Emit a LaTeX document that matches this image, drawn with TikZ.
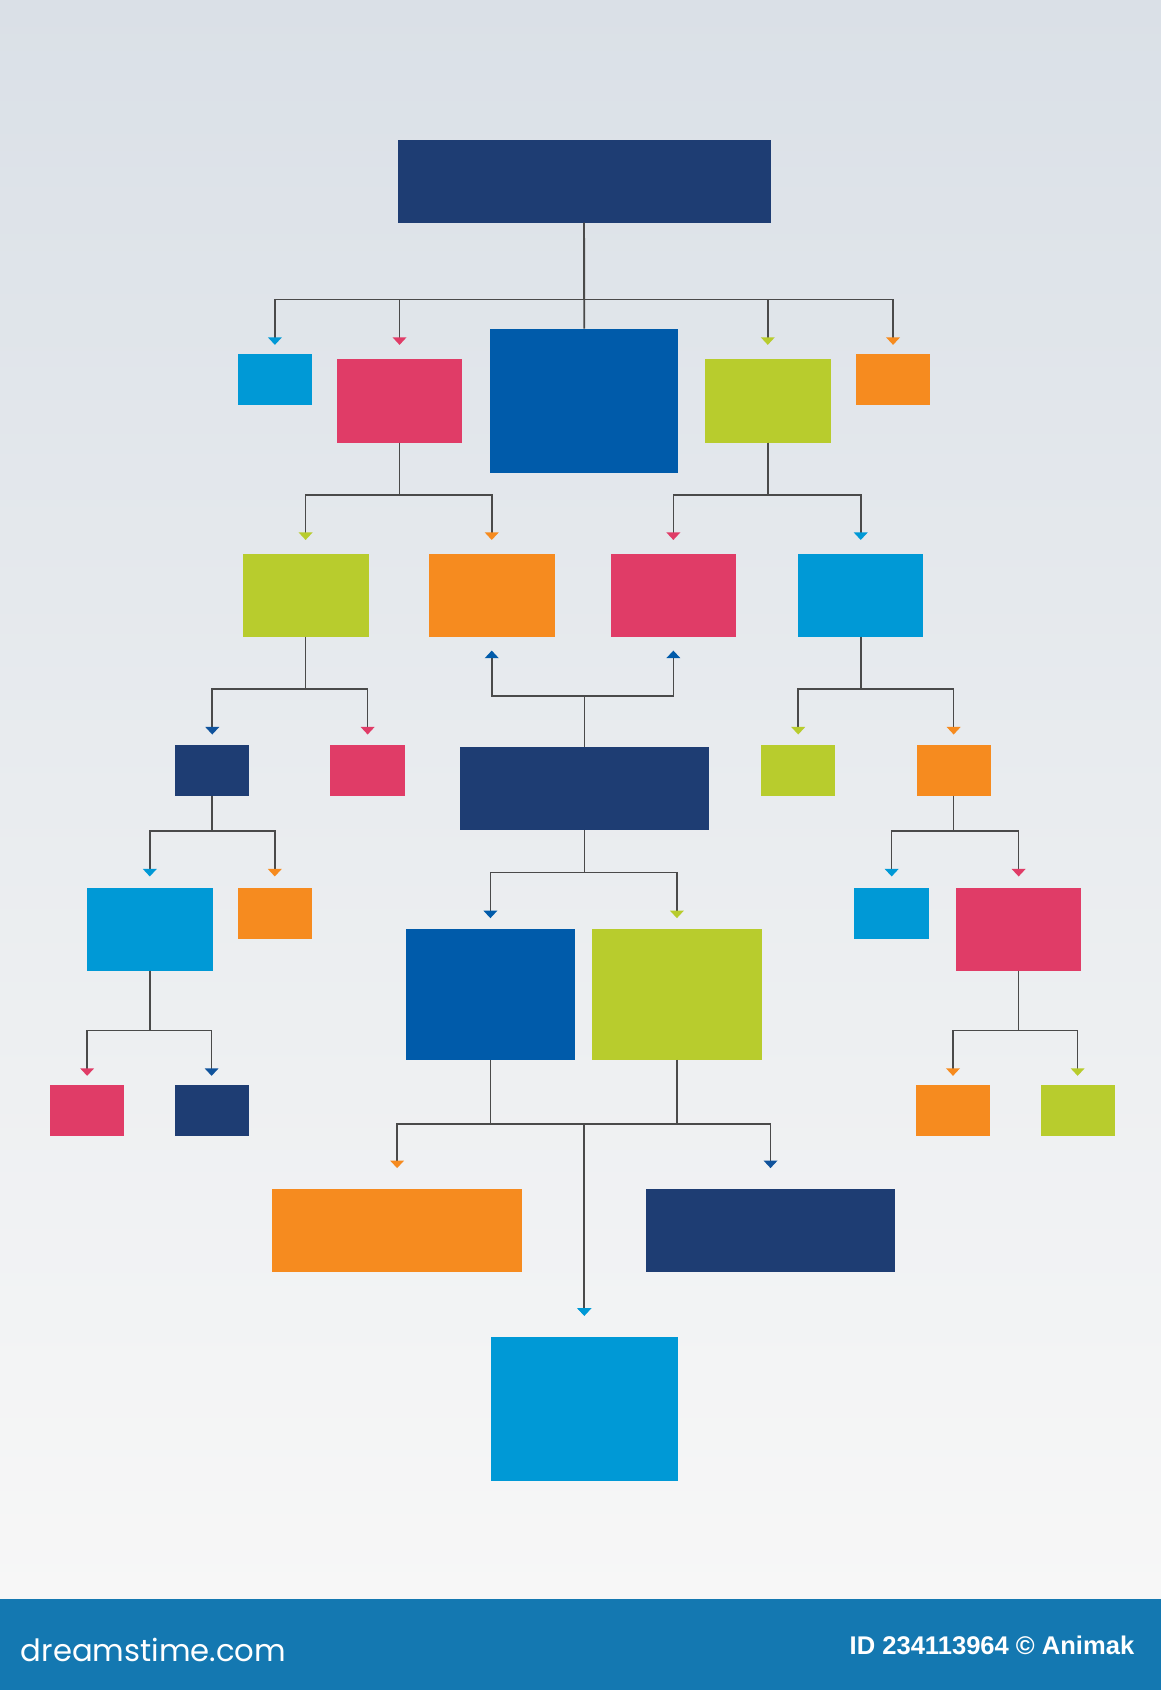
\documentclass[tikz,border=0pt]{standalone}
\usepackage{fontspec}
\setmainfont{Liberation Sans}
\newfontfamily\logofont{Poppins}
\usetikzlibrary{arrows.meta,fit}
\definecolor{cnavy}{HTML}{1E3D73}
\definecolor{cblue}{HTML}{005BAA}
\definecolor{ccyan}{HTML}{0099D6}
\definecolor{cpink}{HTML}{E03C67}
\definecolor{cgreen}{HTML}{B8CC2D}
\definecolor{corange}{HTML}{F68B1F}
\definecolor{cline}{HTML}{4A4A4A}
\definecolor{cbar}{HTML}{1478B1}
\definecolor{bgtop}{HTML}{DAE0E7}
\definecolor{bgmid}{HTML}{E9ECEF}
\definecolor{bgbot}{HTML}{F7F7F7}
\definecolor{carrnavy}{HTML}{10539C}
\newcommand\mybox[6]{\node[boxst, fill=#2, fit={(#3,#4) (#5,#6)}] (#1) {};}
\newcommand\branch[5]{\draw[conn,tip=#5] (#1.south) -- (#1.south |- 0,#3) -| (#2.north |- 0,#4);}
\begin{document}
\begin{tikzpicture}[x=0.02cm,y=-0.02cm,
  boxst/.style={inner sep=0pt, outer sep=0pt, draw=none},
  conn/.style={draw=cline, line width=0.85pt},
  tip/.style={-{Triangle[width=7.2pt,length=4pt,color=#1]}}]
\useasboundingbox (0,0) rectangle (1077,1568);
\shade[top color=bgtop, bottom color=bgbot, middle color=bgmid] (0,0) rectangle (1077,1484);
\fill[cbar] (0,1484) rectangle (1077,1568);
% boxes
\mybox{T}{cnavy}{369}{130}{715}{206.5}
\mybox{C1}{ccyan}{220.7}{328.4}{289.4}{375.7}
\mybox{P1}{cpink}{312.3}{333.3}{429.1}{410.7}
\mybox{B1}{cblue}{455}{305}{629.2}{439}
\mybox{G1}{cgreen}{654.1}{333.3}{770.6}{410.7}
\mybox{O1}{corange}{794.3}{328.4}{862.9}{375.7}
\mybox{G2}{cgreen}{225.1}{514}{342}{591}
\mybox{O2}{corange}{398}{514}{514.5}{591}
\mybox{P2}{cpink}{566.5}{514}{683}{591}
\mybox{C2}{ccyan}{740.4}{514}{856.8}{591}
\mybox{N3}{cnavy}{162.6}{691.4}{231.3}{738.5}
\mybox{P3}{cpink}{306.5}{691.4}{375.7}{738.5}
\mybox{M}{cnavy}{426.8}{693.3}{657.8}{770}
\mybox{G3}{cgreen}{706.2}{691.4}{775}{738.5}
\mybox{O3}{corange}{850.4}{691.4}{919.2}{738.5}
\mybox{C4}{ccyan}{80.7}{823.7}{197.3}{900.5}
\mybox{O4}{corange}{220.5}{823.7}{289.4}{871}
\mybox{B4}{cblue}{376.3}{862}{533.7}{983.3}
\mybox{G4}{cgreen}{549.2}{862}{706.9}{983.3}
\mybox{C4r}{ccyan}{792.8}{823.7}{861.8}{871}
\mybox{P4}{cpink}{886.8}{823.7}{1003.4}{900.5}
\mybox{P5}{cpink}{46.4}{1006.8}{115.3}{1053.8}
\mybox{N5}{cnavy}{162}{1006.8}{230.7}{1053.8}
\mybox{O5}{corange}{849.7}{1006.8}{918.7}{1053.8}
\mybox{G5}{cgreen}{965.4}{1006.8}{1034.3}{1053.8}
\mybox{O6}{corange}{252.8}{1102.7}{484.1}{1180}
\mybox{N6}{cnavy}{599.3}{1102.7}{830.5}{1180}
\mybox{C7}{ccyan}{455.2}{1240.3}{629}{1374.5}
% connectors
\draw[conn] (T.south) -- (B1.north);
\branch{T}{C1}{278}{320}{ccyan}
\branch{T}{P1}{278}{320}{cpink}
\branch{T}{G1}{278}{320}{cgreen}
\branch{T}{O1}{278}{320}{corange}
\branch{P1}{G2}{459}{501}{cgreen}
\branch{P1}{O2}{459}{501}{corange}
\branch{G1}{P2}{459}{501}{cpink}
\branch{G1}{C2}{459}{501}{ccyan}
\draw[conn,tip=cblue] (M.north) -- (M.north |- 0,645.7) -| (O2.south |- 0,603.6);
\draw[conn,tip=cblue] (M.north) -- (M.north |- 0,645.7) -| (P2.south |- 0,603.6);
\branch{G2}{N3}{639.5}{681.5}{carrnavy}
\branch{G2}{P3}{639.5}{681.5}{cpink}
\branch{C2}{G3}{639.5}{681.5}{cgreen}
\branch{C2}{O3}{639.5}{681.5}{corange}
\branch{N3}{C4}{771.2}{813.2}{ccyan}
\branch{N3}{O4}{771.2}{813.2}{corange}
\branch{O3}{C4r}{771.2}{813.2}{ccyan}
\branch{O3}{P4}{771.2}{813.2}{cpink}
\branch{M}{B4}{809.5}{851.9}{cblue}
\branch{M}{G4}{809.5}{851.9}{cgreen}
\branch{C4}{P5}{956.1}{998.2}{cpink}
\branch{C4}{N5}{956.1}{998.2}{carrnavy}
\branch{P4}{O5}{956.1}{998.2}{corange}
\branch{P4}{G5}{956.1}{998.2}{cgreen}
\branch{B4}{O6}{1043}{1083.8}{corange}
\branch{G4}{N6}{1043}{1083.8}{carrnavy}
\branch{B4}{C7}{1043}{1220.8}{ccyan}
\branch{G4}{C7}{1043}{1220.8}{ccyan}
% footer
\node[anchor=base west, text=white, inner sep=0pt, font=\logofont\fontsize{16.2}{16.2}\selectfont] (logo) at (19,1542) {dreamstime.com};
\node[anchor=base west, text=white, inner sep=0pt, font=\bfseries\fontsize{13.5}{13.5}\selectfont] (idtxt) at (788,1535) {ID 234113964 © Animak};
\end{tikzpicture}
\end{document}
